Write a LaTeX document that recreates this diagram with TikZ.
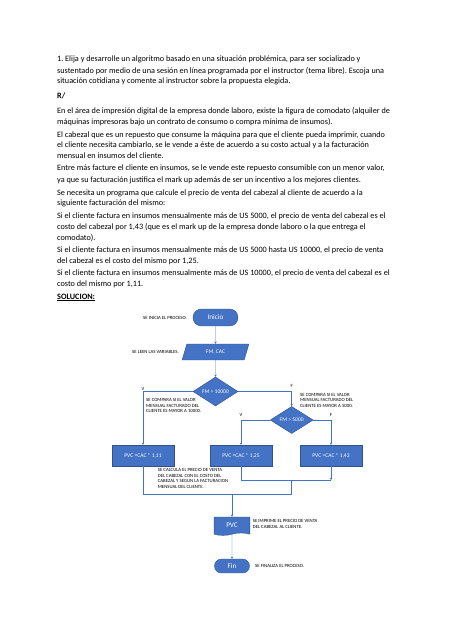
\documentclass[tikz,border=0pt]{standalone}
\usepackage{fontspec}
\setmainfont{Carlito}
\usetikzlibrary{shapes.geometric,shapes.misc,shapes.symbols,arrows.meta}

\definecolor{ofblue}{HTML}{4472C4}
\definecolor{ofedge}{HTML}{2F528F}
\frenchspacing

\tikzset{
  txt/.style={anchor=base west, inner sep=0pt, font=\fontsize{10.3}{12}\selectfont},
  note/.style={align=left, inner sep=0pt, font=\fontsize{6}{6.9}\selectfont},
  blk/.style={draw=ofedge, line width=0.5pt, fill=ofblue, text=white, inner sep=0pt, font=\fontsize{7}{8}\selectfont},
  term/.style={blk, rounded rectangle, font=\fontsize{9}{10}\selectfont},
  io/.style={blk, trapezium, trapezium left angle=70, trapezium right angle=110, trapezium stretches=true, minimum width=84pt, minimum height=20pt},
  dec/.style={blk, diamond, aspect=1.55},
  proc/.style={blk, rectangle, minimum width=78pt, minimum height=26pt},
  docu/.style={blk, tape, tape bend top=none, tape bend height=3pt, minimum width=45pt, minimum height=23pt, font=\fontsize{9}{10}\selectfont},
  flow/.style={draw=ofblue, line width=0.6pt},
  arr/.style={flow, -{Stealth[length=3pt,width=3pt]}},
  yn/.style={font=\fontsize{6}{7}\selectfont, inner sep=1.5pt}
}

\begin{document}
\begin{tikzpicture}[x=1.2552pt,y=-1.2552pt]
            \fill[white] (0,0) rectangle (474,632);
            \useasboundingbox (0,0) rectangle (474,632);
            \node[txt] (t1) at (57,61.7) {1. Elija y desarrolle un algoritmo basado en una situación problémica, para ser socializado y};
            \node[txt] (t2) at (57,73.4) {sustentado por medio de una sesión en línea programada por el instructor (tema libre). Escoja una};
            \node[txt] (t3) at (57,84) {situación cotidiana y comente al instructor sobre la propuesta elegida.};
            \node[txt, font=\fontsize{10.3}{12}\selectfont\bfseries] (t4) at (57,98.7) {R/};
            \node[txt] (t5) at (57,114) {En el área de impresión digital de la empresa donde laboro, existe la figura de comodato (alquiler de};
            \node[txt] (t6) at (57,124.4) {máquinas impresoras bajo un contrato de consumo o compra mínima de insumos).};
            \node[txt] (t7) at (57,137.4) {El cabezal que es un repuesto que consume la máquina para que el cliente pueda imprimir, cuando};
            \node[txt] (t8) at (57,148) {el cliente necesita cambiarlo, se le vende a éste de acuerdo a su costo actual y a la facturación};
            \node[txt] (t9) at (57,158.7) {mensual en insumos del cliente.};
            \node[txt] (t10) at (57,171) {Entre más facture el cliente en insumos, se le vende este repuesto consumible con un menor valor,};
            \node[txt] (t11) at (57,182.7) {ya que su facturación justifica el mark up además de ser un incentivo a los mejores clientes.};
            \node[txt] (t12) at (57,195.4) {Se necesita un programa que calcule el precio de venta del cabezal al cliente de acuerdo a la};
            \node[txt] (t13) at (57,206) {siguiente facturación del mismo:};
            \node[txt] (t14) at (57,218.4) {Si el cliente factura en insumos mensualmente más de US 5000, el precio de venta del cabezal es el};
            \node[txt] (t15) at (57,229.4) {costo del cabezal por 1,43 (que es el mark up de la empresa donde laboro o la que entrega el};
            \node[txt] (t16) at (57,240) {comodato).};
            \node[txt] (t17) at (57,252.7) {Si el cliente factura en insumos mensualmente más de US 5000 hasta US 10000, el precio de venta};
            \node[txt] (t18) at (57,263.4) {del cabezal es el costo del mismo por 1,25.};
            \node[txt] (t19) at (57,275) {Si el cliente factura en insumos mensualmente más de US 10000, el precio de venta del cabezal es el};
            \node[txt] (t20) at (57,286.4) {costo del mismo por 1,11.};
            \node[txt, font=\fontsize{10.3}{12}\selectfont\bfseries] (t21) at (57,299.4) {\underline{SOLUCION:}};
            \node[term, minimum width=56.5pt, minimum height=21.3pt] (ini) at (215.5,317.5) {Inicio};
            \node[io] (read) at (215.5,352) {FM, CAC};
            \node[dec, minimum width=56.5pt, minimum height=36.4pt] (d1) at (215.5,391.5) {FM > 10000};
            \node[dec, minimum width=54pt, minimum height=34pt] (d2) at (291.7,420) {FM > 5000};
            \node[proc] (b1) at (143,455.5) {PVC =CAC * 1,11};
            \node[proc] (b2) at (241,455.5) {PVC =CAC * 1,25};
            \node[proc] (b3) at (331,455.5) {PVC =CAC * 1,43};
            \node[docu] (doc) at (232,525) {PVC};
            \node[term, minimum width=44pt, minimum height=17.5pt] (fin) at (232,566) {Fin};
            \node[note, anchor=east] (cini) at (187,318) {SE INICIA EL PROCESO.};
            \node[note, anchor=east] (cread) at (179,352) {SE LEEN LAS VARIABLES.};
            \node[note, anchor=north west] (cd1) at (146,398.6) {SE COMPARA SI EL VALOR\\MENSUAL FACTURADO DEL\\CLIENTE ES MAYOR A 10000.};
            \node[note, anchor=north west] (cd2) at (300,393) {SE COMPARA SI EL VALOR\\MENSUAL FACTURADO DEL\\CLIENTE ES MAYOR A 5000.};
            \node[note, anchor=north west] (ccalc) at (157.7,468.7) {SE CALCULA EL PRECIO DE VENTA\\DEL CABEZAL CON EL COSTO DEL\\CABEZAL Y SEGUN LA FACTURACION\\MENSUAL DEL CLIENTE.};
            \node[note, anchor=north west] (cdoc) at (252.7,519.7) {SE IMPRIME EL PRECIO DE VENTA\\DEL CABEZAL AL CLIENTE.};
            \node[note, anchor=west] (cfin) at (255,566) {SE FINALIZA EL PROCESO.};
            \coordinate (j1) at (331,480);
            \coordinate (m1) at (291.7,480);
            \coordinate (j2) at (291.7,494);
            \coordinate (j3) at (232,494);
            \draw[arr] (ini) -- (read);
            \draw[arr] (read) -- (d1);
            \draw[arr] (d1.west) -| node[yn, pos=0.5, above] {V} (b1.north);
            \draw[arr] (d1.east) -| node[yn, pos=0.5, above=3pt] {F} (d2.north);
            \draw[arr] (d2.west) -| node[yn, pos=0.5, above=3pt] {V} (b2.north);
            \draw[arr] (d2.east) -| node[yn, pos=0.5, above=3pt] {F} (b3.north);
            \draw[arr] (b3.south) -- (j1);
            \draw[flow] (b2.south) |- (j1);
            \draw[flow] (m1) -- (j2);
            \draw[flow] (b1.south) |- (j2);
            \draw[arr] (j3) -- (doc.north);
            \draw[arr] (doc.south) -- (fin);
        \end{tikzpicture}
\end{document}
